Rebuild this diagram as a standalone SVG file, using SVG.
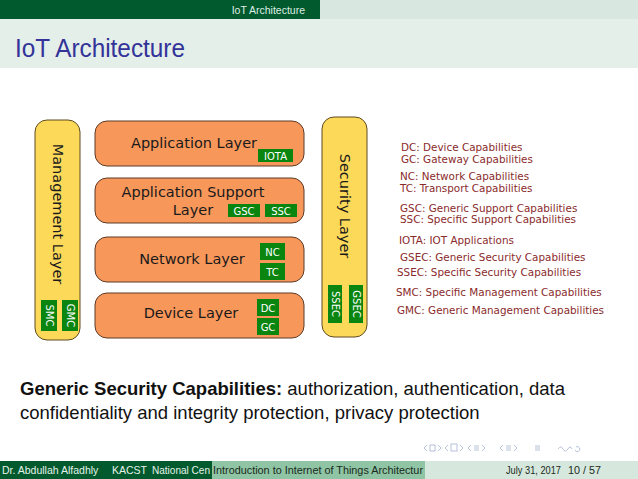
<svg xmlns="http://www.w3.org/2000/svg" width="638" height="479" viewBox="0 0 638 479">
<style>
.lbl{font-family:"DejaVu Sans",sans-serif;font-size:14.5px;fill:#1a1a1a}
.tag{font-family:"DejaVu Sans",sans-serif;font-size:10px;fill:#ffffff}
.gbox{fill:#0a850f}
.layer{fill:#f8975a;stroke:#5c3a26;stroke-width:1}
.side{fill:#fdd95a;stroke:#5e4a20;stroke-width:1}
.leg{font-family:"DejaVu Sans",sans-serif;font-size:10.4px;fill:#8a2b2b}
.body{font-family:"Liberation Sans",sans-serif;font-size:18.5px;fill:#111}
.foot{font-family:"Liberation Sans",sans-serif;font-size:10.5px}
</style>
<rect width="638" height="479" fill="#ffffff"/>
<!-- header -->
<rect x="0" y="0" width="320" height="19" fill="#005a2d"/>
<rect x="320" y="0" width="318" height="19" fill="#d8e7df"/>
<text x="305" y="13.5" text-anchor="end" class="foot" fill="#dfeee6">IoT Architecture</text>
<rect x="0" y="19" width="638" height="49" fill="#e4efe9"/>
<text x="15" y="57" font-family="Liberation Sans, sans-serif" font-size="25" fill="#333399" textLength="170" lengthAdjust="spacingAndGlyphs">IoT Architecture</text>

<!-- management layer -->
<g id="management">
<rect x="35" y="120" width="45" height="220" rx="12" ry="12" class="side"/>
<text x="58" y="214" class="lbl" text-anchor="middle" dominant-baseline="central" transform="rotate(90 58 214)">Management Layer</text>
<rect x="41" y="300" width="16" height="31" class="gbox"/>
<text x="49" y="315.5" class="tag" text-anchor="middle" dominant-baseline="central" transform="rotate(90 49 315.5)">SMC</text>
<rect x="62" y="300" width="16" height="31" class="gbox"/>
<text x="70" y="315.5" class="tag" text-anchor="middle" dominant-baseline="central" transform="rotate(90 70 315.5)">GMC</text>
</g>

<g id="application">
<rect x="95" y="121" width="209" height="45" rx="12" ry="12" class="layer"/>
<text x="194" y="148" class="lbl" text-anchor="middle">Application Layer</text>
<rect x="258" y="149" width="35" height="13" class="gbox"/>
<text x="275.5" y="159.5" class="tag" text-anchor="middle">IOTA</text>
</g>

<g id="appsupport">
<rect x="95" y="178" width="209" height="45" rx="12" ry="12" class="layer"/>
<text x="193" y="197" class="lbl" text-anchor="middle">Application Support</text>
<text x="193" y="215" class="lbl" text-anchor="middle">Layer</text>
<rect x="228" y="204" width="32" height="13" class="gbox"/>
<text x="244" y="214.5" class="tag" text-anchor="middle">GSC</text>
<rect x="265" y="204" width="32" height="13" class="gbox"/>
<text x="281" y="214.5" class="tag" text-anchor="middle">SSC</text>
</g>

<g id="network">
<rect x="95" y="237" width="209" height="45" rx="12" ry="12" class="layer"/>
<text x="192" y="264" class="lbl" text-anchor="middle">Network Layer</text>
<rect x="260" y="243" width="25" height="17" class="gbox"/>
<text x="272.5" y="255.5" class="tag" text-anchor="middle">NC</text>
<rect x="260" y="263" width="25" height="17" class="gbox"/>
<text x="272.5" y="275.5" class="tag" text-anchor="middle">TC</text>
</g>

<g id="device">
<rect x="95" y="293" width="209" height="45" rx="12" ry="12" class="layer"/>
<text x="191" y="318" class="lbl" text-anchor="middle">Device Layer</text>
<rect x="257" y="299" width="22" height="17" class="gbox"/>
<text x="268" y="311.5" class="tag" text-anchor="middle">DC</text>
<rect x="257" y="318" width="22" height="17" class="gbox"/>
<text x="268" y="330.5" class="tag" text-anchor="middle">GC</text>
</g>

<g id="security">
<rect x="322" y="117" width="45" height="220" rx="12" ry="12" class="side"/>
<text x="345" y="206" class="lbl" text-anchor="middle" dominant-baseline="central" transform="rotate(90 345 206)">Security Layer</text>
<rect x="328" y="285" width="14" height="38" class="gbox"/>
<text x="335" y="304" class="tag" text-anchor="middle" dominant-baseline="central" transform="rotate(90 335 304)">SSEC</text>
<rect x="349" y="285" width="14" height="38" class="gbox"/>
<text x="356" y="304" class="tag" text-anchor="middle" dominant-baseline="central" transform="rotate(90 356 304)">GSEC</text>
</g>

<g id="connectors"></g>

<g id="legend">
<text x="401" y="150.5" class="leg">DC: Device Capabilities</text>
<text x="401" y="162.5" class="leg">GC: Gateway Capabilities</text>
<text x="400" y="179.5" class="leg">NC: Network Capabilities</text>
<text x="400" y="191.5" class="leg">TC: Transport Capabilities</text>
<text x="400" y="211.5" class="leg">GSC: Generic Support Capabilities</text>
<text x="400" y="222.5" class="leg">SSC: Specific Support Capabilities</text>
<text x="399" y="243.5" class="leg">IOTA: IOT Applications</text>
<text x="400" y="260.5" class="leg">GSEC: Generic Security Capabilities</text>
<text x="397" y="275.5" class="leg">SSEC: Specific Security Capabilities</text>
<text x="396" y="296" class="leg">SMC: Specific Management Capabilities</text>
<text x="397" y="313.5" class="leg">GMC: Generic Management Capabilities</text>
</g>

<text x="20" y="395" class="body"><tspan font-weight="bold">Generic Security Capabilities:</tspan> authorization, authentication, data</text>
<text x="20" y="419" class="body">confidentiality and integrity protection, privacy protection</text>

<!-- nav symbols -->
<g fill="none" stroke="#b0bdd4" stroke-width="0.9">
<path d="M427 445 l-3 3 l3 3"/><rect x="430" y="445" width="5" height="6"/><path d="M438 445 l3 3 l-3 3"/>
<path d="M448 445 l-3 3 l3 3"/><rect x="451" y="444" width="6" height="7"/><path d="M460 445 l3 3 l-3 3"/>
<path d="M471 445 l-3 3 l3 3"/><path d="M474 446 h5 M474 448 h5 M474 450 h5"/><path d="M482 445 l3 3 l-3 3"/>
<path d="M503 445 l-3 3 l3 3"/><path d="M506 446 h5 M506 448 h5 M506 450 h5"/><path d="M514 445 l3 3 l-3 3"/>
<path d="M535 446 h5 M535 448 h5 M535 450 h5"/>
<path d="M558 449 q3 -4 5 0 q2 4 5 0 q2 -4 4 0 M576 447 a2.5 2.5 0 1 1 -1 3"/>
</g>

<!-- footer -->
<rect x="0" y="461" width="212" height="18" fill="#005a2d"/>
<rect x="212" y="461" width="213" height="18" fill="#8fc5a4"/>
<rect x="425" y="461" width="213" height="18" fill="#d6e8de"/>
<text x="2" y="474" class="foot" fill="#e6f2ea">Dr. Abdullah Alfadhly</text>
<text x="112" y="474" class="foot" fill="#e6f2ea">KACST</text>
<text x="152" y="474" class="foot" fill="#e6f2ea" textLength="58" lengthAdjust="spacingAndGlyphs">National Cen</text>
<text x="213" y="474" class="foot" fill="#1a2a20" textLength="210" lengthAdjust="spacingAndGlyphs">Introduction to Internet of Things Architectur</text>
<text x="506" y="474" class="foot" fill="#1a2a20" textLength="55" lengthAdjust="spacingAndGlyphs">July 31, 2017</text>
<text x="568" y="474" class="foot" fill="#1a2a20" textLength="33" lengthAdjust="spacingAndGlyphs">10 / 57</text>
</svg>
